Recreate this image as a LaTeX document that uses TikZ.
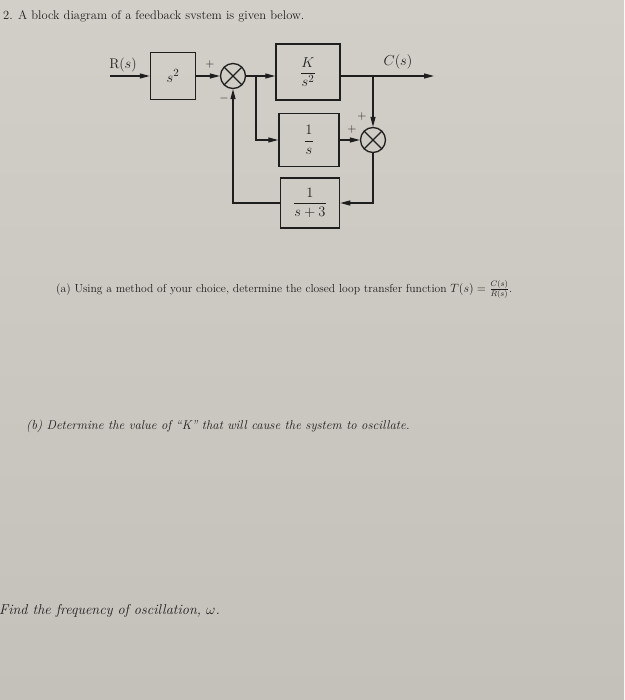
\documentclass[tikz,border=0pt]{standalone}
\usepackage{amsmath}
\usetikzlibrary{arrows.meta,positioning}
\definecolor{paper}{RGB}{210,206,200}
\definecolor{paperdark}{RGB}{196,192,186}
\definecolor{ink}{RGB}{30,30,30}
\tikzset{
  block/.style={draw=ink, line width=1.5pt, minimum width=#1, inner sep=0pt},
  block/.default=60pt,
  summer/.style={draw=ink, line width=1.3pt, circle, minimum size=25pt, inner sep=0pt,
    path picture={\draw[ink, line width=1.2pt]
      (path picture bounding box.north west) -- (path picture bounding box.south east)
      (path picture bounding box.north east) -- (path picture bounding box.south west);}},
  signal/.style={draw=ink, line width=1.2pt},
  sgn/.style={font=\fontsize{13}{14}\selectfont, text=ink, inner sep=1pt},
  gain/.style={font=\fontsize{15}{17}\selectfont, text=ink}
}
\begin{document}
\begin{tikzpicture}[x=1pt, y=-1pt, >={Triangle[length=10pt,width=5pt]}]
        \useasboundingbox (0,0) rectangle (624,700);
        %paper
        \shade[top color=paper, bottom color=paperdark] (0,0) rectangle (624,700);
        %question text
        \node[anchor=base west, text=ink, inner sep=0pt, font=\fontsize{12.5}{14}\selectfont] (title) at (3,20)
          {2. A block diagram of a feedback svstem is given below.};
        \node[anchor=base west, text=ink, inner sep=0pt, font=\fontsize{11.6}{13}\selectfont] (parta) at (56,292)
          {(a) Using a method of your choice, determine the closed loop transfer function $T(s)=\frac{C(s)}{R(s)}$.};
        \node[anchor=base west, text=ink, inner sep=0pt, font=\fontsize{12.75}{14}\selectfont\itshape] (partb) at (26,429)
          {(b) Determine the value of ``K'' that will cause the system to oscillate.};
        \node[anchor=base west, text=ink, inner sep=0pt, font=\fontsize{14.3}{16}\selectfont\itshape] (partc) at (-1,614)
          {Find the frequency of oscillation, $\omega$.};
        %blocks
        \coordinate (in) at (110,76);
        \node[block=45pt, minimum height=47pt, gain] (G1) at (173,76) {$s^2$};
        \node[summer] (sum1) at (233,76) {};
        \coordinate (b1) at (256,76);
        \node[block=64pt, minimum height=56pt, gain] (GK) at (308,72) {$\dfrac{K}{s^2}$};
        \node[block=60pt, minimum height=53pt, gain] (GS) at (309,140) {$\dfrac{1}{s}$};
        \node[summer] (sum2) at (373,140) {};
        \node[block=59pt, minimum height=50pt, gain] (GF) at (310,203) {$\dfrac{1}{s+3}$};
        \coordinate (b2) at (373,76);
        \coordinate (out) at (434,76);
        %signals
        \draw[signal,->] (in) -- (G1.west |- in);
        \draw[signal,->] (G1.east |- sum1) -- (sum1.west);
        \draw[signal,->] (sum1.east) -- (b1) -- (GK.west |- b1);
        \draw[signal,->] (GK.east |- b2) -- (out);
        \draw[signal,->] (b2) -- (sum2.north);
        \draw[signal,->] (b1) |- (GS.west);
        \draw[signal,->] (GS.east) -- (sum2.west);
        \draw[signal,->] (sum2.south) |- (GF.east);
        \draw[signal,->] (GF.west) -| (sum1.south);
        %labels
        \node[text=ink, font=\fontsize{14}{16}\selectfont] (Rlabel) at (123,65) {R($s$)};
        \node[text=ink, font=\fontsize{14}{16}\selectfont] (Clabel) at (398,62) {$C(s)$};
        \node[sgn] (p1) at (210,65) {$+$};
        \node[sgn] (m1) at (224,99) {$-$};
        \node[sgn] (p2) at (362,117) {$+$};
        \node[sgn] (p3) at (352,130) {$+$};
\end{tikzpicture}
\end{document}
